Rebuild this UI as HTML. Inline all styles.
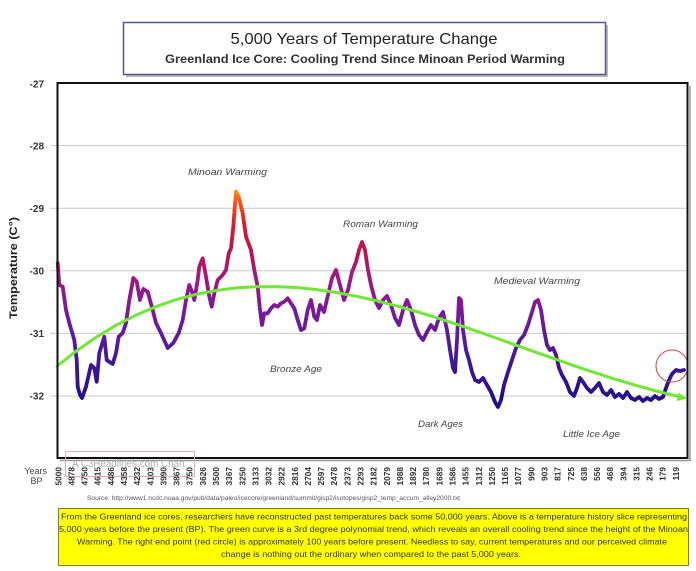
<!DOCTYPE html>
<html><head><meta charset="utf-8"><style>
html,body{margin:0;padding:0;background:#fff;}
svg{display:block;font-family:"Liberation Sans",Arial,sans-serif;}
</style></head><body>
<svg width="696" height="571" viewBox="0 0 696 571" xmlns="http://www.w3.org/2000/svg">
<defs>
<linearGradient id="lg" gradientUnits="userSpaceOnUse" x1="0" y1="188" x2="0" y2="410">
<stop offset="0" stop-color="#ff9a20"/>
<stop offset="0.07" stop-color="#ff4a10"/>
<stop offset="0.16" stop-color="#e01828"/>
<stop offset="0.28" stop-color="#c0124e"/>
<stop offset="0.40" stop-color="#a01880"/>
<stop offset="0.53" stop-color="#80189a"/>
<stop offset="0.68" stop-color="#5a1aa0"/>
<stop offset="0.82" stop-color="#381496"/>
<stop offset="1" stop-color="#1c0c88"/>
</linearGradient>
</defs>
<rect width="696" height="571" fill="#fff"/>

<!-- Title box -->
<rect x="126" y="25" width="482" height="52" fill="#b8b8c0"/>
<rect x="123.5" y="22.5" width="482" height="52" fill="#fff" stroke="#55558f" stroke-width="1.5"/>
<text x="364" y="44" text-anchor="middle" font-size="16" fill="#222" textLength="267" lengthAdjust="spacingAndGlyphs">5,000 Years of Temperature Change</text>
<text x="365" y="63" text-anchor="middle" font-size="12" font-weight="bold" fill="#333" textLength="400" lengthAdjust="spacingAndGlyphs">Greenland Ice Core: Cooling Trend Since Minoan Period Warming</text>

<!-- gridlines -->
<g stroke="#c8c8c8" stroke-width="1">
<line x1="50" y1="145.6" x2="687" y2="145.6"/>
<line x1="50" y1="208.2" x2="687" y2="208.2"/>
<line x1="50" y1="270.8" x2="687" y2="270.8"/>
<line x1="50" y1="333.4" x2="687" y2="333.4"/>
<line x1="50" y1="396" x2="687" y2="396"/>
</g>

<!-- y labels -->
<g font-size="10" font-weight="bold" fill="#333" text-anchor="end">
<text x="44" y="87.5">-27</text>
<text x="44" y="149.5">-28</text>
<text x="44" y="212">-29</text>
<text x="44" y="274.5">-30</text>
<text x="44" y="337">-31</text>
<text x="44" y="399.5">-32</text>
</g>
<text transform="translate(17,268) rotate(-90)" text-anchor="middle" font-size="11" font-weight="bold" fill="#222" textLength="102" lengthAdjust="spacingAndGlyphs">Temperature (C°)</text>

<!-- annotations -->
<g font-size="9" font-style="italic" fill="#444" lengthAdjust="spacingAndGlyphs">
<text x="188" y="175" textLength="79" lengthAdjust="spacingAndGlyphs">Minoan Warming</text>
<text x="343" y="227" textLength="75" lengthAdjust="spacingAndGlyphs">Roman Warming</text>
<text x="494" y="284" textLength="86" lengthAdjust="spacingAndGlyphs">Medieval Warming</text>
<text x="270" y="372" textLength="52" lengthAdjust="spacingAndGlyphs">Bronze Age</text>
<text x="418" y="427" textLength="45" lengthAdjust="spacingAndGlyphs">Dark Ages</text>
<text x="563" y="437" textLength="57" lengthAdjust="spacingAndGlyphs">Little Ice Age</text>
</g>

<!-- data line -->
<polyline fill="none" stroke="url(#lg)" stroke-width="3.8" stroke-linejoin="round" stroke-linecap="round" points="
57.7,263 59.3,285 62.7,286.7 66,310 69.3,323 74.3,340 76.7,360 77.7,386.7 80,395 82,398 86,386.7 91,365 94.3,368 96.7,381.7 99.3,353 104.3,336.7 106.7,360 112.7,364 116,353 118.7,336.7 122.7,333 126,323 129.3,300 133.3,278 136.7,281.7 140,300 143.3,289 147.7,291.7 152.7,310 156,323 161,333 167.7,348 173.3,343 178.7,333 182.7,320 186,300 189.3,285 192,291.7 194.3,300 197.7,280 199.3,266.7 202.7,258.3 206,276.7 209.3,296.7 211.7,306.7 214.3,293.3 217.7,280 222.7,275 226,270 228.7,253.3 231,248.3 233.3,226.7 236,191.7 238.7,196.7 242.7,213.3 246,236.7 251,250 254.3,270 257.7,286.7 260,310 262,325 264.3,313.3 267.7,313.3 271,308.3 274.3,305 277.7,306.7 281,303.3 284.3,301.7 287.7,298.3 291,303.3 294.3,308.3 297.7,320 301,330 304.3,328.3 307.7,310 311,300 314.3,316.7 317,320
320,305 324,312 328,295 332,278 336,270 340,285 344,300 348,290 352,272 356,262 359,250 362,242 365,250 368,270 371,285 375,300 379,308 383,300 387,296 391,305 395,318 399,325 403,310 407,300 411,310 415,325 419,335 423,340 427,332 431,325 435,330 439,318 443,312 447,330 450,350 453,368 455,372 457,340 459,298 461,300 463,330 466,350 469,360 472,372 475,380 479,382 483,378 487,385 491,392 495,402 498,407 501,400 504,385 508,372 512,360 516,348 520,340 524,335 528,325 532,312 535,302 538,300 541,310 544,330 547,345 550,350 553,348 556,355 559,368 562,375 566,382 570,392 574,396 577,388 580,378 583,382 587,388 591,392 595,388 599,383 603,392 607,395 611,390 615,397 619,394 623,398 627,392 631,398 635,400 639,397 643,401 647,398 651,400 655,396 659,399 663,397 666,388 669,380 672,374 676,370 680,371 684,370"/>

<!-- trend -->
<polyline fill="none" stroke="#6ee832" stroke-width="3" stroke-linejoin="round" points="56,367 76,351.2 96,337.3 116,325.3 136,315.1 156,306.6 176,299.7 196,294.4 216,290.5 236,287.9 256,286.7 276,286.6 296,287.5 316,289.5 336,292.5 356,296.2 376,300.6 396,305.8 416,311.4 436,317.6 456,324.1 476,330.9 496,338 516,345.2 536,352.3 556,359.3 576,366.4 596,373 616,379.4 636,385.4 656,390.9 676,395.8 680,396.8"/>
<polygon points="678,392.5 687,398.5 677,401" fill="#6ee832"/>

<!-- red circle -->
<circle cx="672" cy="366" r="16" fill="none" stroke="#d04040" stroke-width="1"/>

<!-- frame -->
<line x1="690" y1="86" x2="690" y2="461" stroke="#999" stroke-width="1.5"/>
<line x1="60" y1="460.5" x2="690" y2="460.5" stroke="#999" stroke-width="1.5"/>
<rect x="57.5" y="83" width="630" height="375" fill="none" stroke="#111" stroke-width="2"/>

<!-- watermark -->
<rect x="65.5" y="451.5" width="129" height="25" fill="none" stroke="#e0b0b0" stroke-width="1"/>
<text x="72" y="467" font-size="11" fill="#b0b0b0" textLength="113" lengthAdjust="spacingAndGlyphs">A C3Headlines.com Chart</text>

<!-- x labels -->
<g font-size="8.3" font-weight="bold" fill="#333" text-anchor="end">
<text transform="translate(61.3,467) rotate(-90)">5000</text>
<text transform="translate(74.44,467) rotate(-90)">4878</text>
<text transform="translate(87.58,467) rotate(-90)">4750</text>
<text transform="translate(100.72,467) rotate(-90)">4615</text>
<text transform="translate(113.86,467) rotate(-90)">4486</text>
<text transform="translate(127,467) rotate(-90)">4358</text>
<text transform="translate(140.14,467) rotate(-90)">4232</text>
<text transform="translate(153.28,467) rotate(-90)">4103</text>
<text transform="translate(166.42,467) rotate(-90)">3990</text>
<text transform="translate(179.56,467) rotate(-90)">3867</text>
<text transform="translate(192.7,467) rotate(-90)">3750</text>
<text transform="translate(205.84,467) rotate(-90)">3626</text>
<text transform="translate(218.98,467) rotate(-90)">3500</text>
<text transform="translate(232.12,467) rotate(-90)">3367</text>
<text transform="translate(245.26,467) rotate(-90)">3250</text>
<text transform="translate(258.4,467) rotate(-90)">3133</text>
<text transform="translate(271.54,467) rotate(-90)">3032</text>
<text transform="translate(284.68,467) rotate(-90)">2922</text>
<text transform="translate(297.82,467) rotate(-90)">2816</text>
<text transform="translate(310.96,467) rotate(-90)">2704</text>
<text transform="translate(324.1,467) rotate(-90)">2597</text>
<text transform="translate(337.24,467) rotate(-90)">2478</text>
<text transform="translate(350.38,467) rotate(-90)">2373</text>
<text transform="translate(363.52,467) rotate(-90)">2293</text>
<text transform="translate(376.66,467) rotate(-90)">2182</text>
<text transform="translate(389.8,467) rotate(-90)">2079</text>
<text transform="translate(402.94,467) rotate(-90)">1988</text>
<text transform="translate(416.08,467) rotate(-90)">1892</text>
<text transform="translate(429.22,467) rotate(-90)">1780</text>
<text transform="translate(442.36,467) rotate(-90)">1689</text>
<text transform="translate(455.5,467) rotate(-90)">1586</text>
<text transform="translate(468.64,467) rotate(-90)">1455</text>
<text transform="translate(481.78,467) rotate(-90)">1312</text>
<text transform="translate(494.92,467) rotate(-90)">1250</text>
<text transform="translate(508.06,467) rotate(-90)">1165</text>
<text transform="translate(521.2,467) rotate(-90)">1077</text>
<text transform="translate(534.34,467) rotate(-90)">990</text>
<text transform="translate(547.48,467) rotate(-90)">903</text>
<text transform="translate(560.62,467) rotate(-90)">817</text>
<text transform="translate(573.76,467) rotate(-90)">725</text>
<text transform="translate(586.9,467) rotate(-90)">638</text>
<text transform="translate(600.04,467) rotate(-90)">556</text>
<text transform="translate(613.18,467) rotate(-90)">468</text>
<text transform="translate(626.32,467) rotate(-90)">394</text>
<text transform="translate(639.46,467) rotate(-90)">315</text>
<text transform="translate(652.6,467) rotate(-90)">246</text>
<text transform="translate(665.74,467) rotate(-90)">179</text>
<text transform="translate(678.88,467) rotate(-90)">119</text>
</g>
<text x="47" y="474" font-size="9" fill="#444" text-anchor="end">Years</text>
<text x="36.5" y="484" font-size="9" fill="#444" text-anchor="middle">BP</text>

<!-- source -->
<text x="87" y="500" font-size="6" fill="#555" textLength="373" lengthAdjust="spacingAndGlyphs">Source: http://www1.ncdc.noaa.gov/pub/data/paleo/icecore/greenland/summit/gisp2/isotopes/gisp2_temp_accum_alley2000.txt</text>

<!-- yellow box -->
<rect x="58.5" y="508.5" width="630" height="57" fill="#ffff00" stroke="#7a7a50" stroke-width="1"/>
<g font-size="8.5" fill="#333" text-anchor="middle">
<text x="374" y="519.5" textLength="626" lengthAdjust="spacingAndGlyphs">From the Greenland ice cores, researchers have reconstructed past temperatures back some 50,000 years. Above is a temperature history slice representing</text>
<text x="373.5" y="532" textLength="629" lengthAdjust="spacingAndGlyphs">5,000 years before the present (BP). The green curve is a 3rd degree polynomial trend, which reveals an overall cooling trend since the height of the Minoan</text>
<text x="372" y="544.5" textLength="590" lengthAdjust="spacingAndGlyphs">Warming. The right end point (red circle) is approximately 100 years before present. Needless to say, current temperatures and our perceived climate</text>
<text x="371" y="557" textLength="300" lengthAdjust="spacingAndGlyphs">change is nothing out the ordinary when compared to the past 5,000 years.</text>
</g>
</svg>
</body></html>
